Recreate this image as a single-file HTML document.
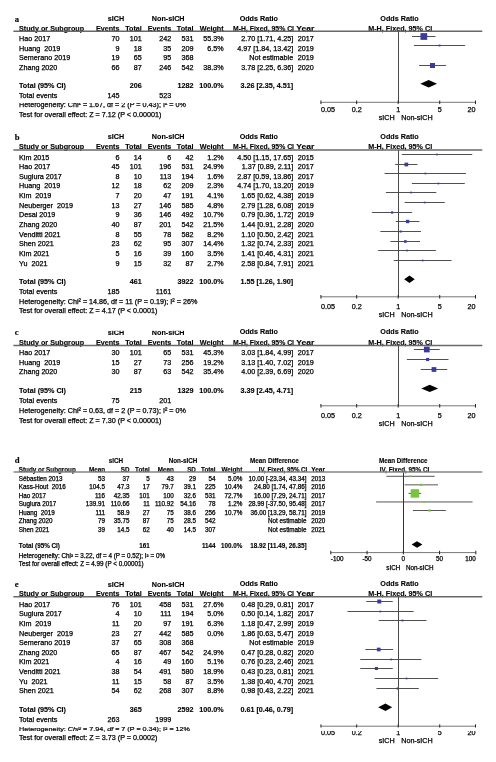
<!DOCTYPE html>
<html><head><meta charset="utf-8"><title>Forest plots</title>
<style>
html,body{margin:0;padding:0;background:#fff;}
body{width:496px;height:762px;overflow:hidden;}
svg{display:block;font-family:"Liberation Sans", Arial, sans-serif;}
#w{width:496px;height:762px;}
text{fill:#000;white-space:pre;}
.r{stroke:#000;stroke-width:0.25px;}
.b{stroke:#000;stroke-width:0.12px;}
</style></head><body><div id="w">
<svg width="496" height="762" viewBox="0 0 496 762">
<rect x="0" y="0" width="496" height="762" fill="#fff"/>
<text x="14.80" y="21.60" font-size="8.7" font-weight="bold" class="b" font-family="Liberation Serif, serif">a</text>
<text x="116.00" y="21.00" font-size="7.2" text-anchor="middle" font-weight="bold" class="b">sICH</text>
<text x="168.20" y="21.00" font-size="7.2" text-anchor="middle" font-weight="bold" class="b">Non-sICH</text>
<text x="258.80" y="20.50" font-size="7.2" text-anchor="middle" font-weight="bold" class="b">Odds Ratio</text>
<text x="399.50" y="20.50" font-size="7.2" text-anchor="middle" font-weight="bold" class="b">Odds Ratio</text>
<text x="19.00" y="30.50" font-size="7.2" font-weight="bold" class="b">Study or Subgroup</text>
<text x="119.50" y="30.50" font-size="7.2" text-anchor="end" font-weight="bold" class="b">Events</text>
<text x="141.80" y="30.50" font-size="7.2" text-anchor="end" font-weight="bold" class="b">Total</text>
<text x="171.30" y="30.50" font-size="7.2" text-anchor="end" font-weight="bold" class="b">Events</text>
<text x="193.50" y="30.50" font-size="7.2" text-anchor="end" font-weight="bold" class="b">Total</text>
<text x="223.60" y="30.50" font-size="7.2" text-anchor="end" font-weight="bold" class="b">Weight</text>
<text x="294.00" y="30.50" font-size="7.2" text-anchor="end" font-weight="bold" class="b" textLength="61" lengthAdjust="spacingAndGlyphs">M-H, Fixed, 95% CI</text>
<text x="296.30" y="30.50" font-size="7.2" font-weight="bold" class="b" textLength="18" lengthAdjust="spacingAndGlyphs">Year</text>
<text x="400.20" y="30.50" font-size="7.2" text-anchor="middle" font-weight="bold" class="b">M-H, Fixed, 95% CI</text>
<line x1="13.40" y1="31.30" x2="482.30" y2="31.30" stroke="#686868" stroke-width="1.5"/>
<text x="19.00" y="40.80" font-size="7.2" class="r">Hao 2017</text>
<text x="119.50" y="40.80" font-size="7.2" text-anchor="end" class="r">70</text>
<text x="141.80" y="40.80" font-size="7.2" text-anchor="end" class="r">101</text>
<text x="171.30" y="40.80" font-size="7.2" text-anchor="end" class="r">242</text>
<text x="193.50" y="40.80" font-size="7.2" text-anchor="end" class="r">531</text>
<text x="223.60" y="40.80" font-size="7.2" text-anchor="end" class="r">55.3%</text>
<text x="293.20" y="40.80" font-size="7.2" text-anchor="end" class="r">2.70 [1.71, 4.25]</text>
<text x="313.80" y="40.80" font-size="7.2" text-anchor="end" class="r">2017</text>
<line x1="412.04" y1="36.50" x2="435.53" y2="36.50" stroke="#505050" stroke-width="1.0"/>
<rect x="420.46" y="33.13" width="6.73" height="6.73" fill="#3b3b9e"/>
<text x="19.00" y="50.50" font-size="7.2" class="r">Huang  2019</text>
<text x="119.50" y="50.50" font-size="7.2" text-anchor="end" class="r">9</text>
<text x="141.80" y="50.50" font-size="7.2" text-anchor="end" class="r">18</text>
<text x="171.30" y="50.50" font-size="7.2" text-anchor="end" class="r">35</text>
<text x="193.50" y="50.50" font-size="7.2" text-anchor="end" class="r">209</text>
<text x="223.60" y="50.50" font-size="7.2" text-anchor="end" class="r">6.5%</text>
<text x="293.20" y="50.50" font-size="7.2" text-anchor="end" class="r">4.97 [1.84, 13.42]</text>
<text x="313.80" y="50.50" font-size="7.2" text-anchor="end" class="r">2019</text>
<line x1="413.93" y1="45.50" x2="465.20" y2="45.50" stroke="#505050" stroke-width="1.0"/>
<rect x="438.64" y="44.58" width="1.85" height="1.85" fill="#3b3b9e"/>
<text x="19.00" y="60.20" font-size="7.2" class="r">Semerano 2019</text>
<text x="119.50" y="60.20" font-size="7.2" text-anchor="end" class="r">19</text>
<text x="141.80" y="60.20" font-size="7.2" text-anchor="end" class="r">65</text>
<text x="171.30" y="60.20" font-size="7.2" text-anchor="end" class="r">95</text>
<text x="193.50" y="60.20" font-size="7.2" text-anchor="end" class="r">368</text>
<text x="293.20" y="60.20" font-size="7.2" text-anchor="end" class="r">Not estimable</text>
<text x="313.80" y="60.20" font-size="7.2" text-anchor="end" class="r">2019</text>
<text x="19.00" y="69.90" font-size="7.2" class="r">Zhang 2020</text>
<text x="119.50" y="69.90" font-size="7.2" text-anchor="end" class="r">66</text>
<text x="141.80" y="69.90" font-size="7.2" text-anchor="end" class="r">87</text>
<text x="171.30" y="69.90" font-size="7.2" text-anchor="end" class="r">246</text>
<text x="193.50" y="69.90" font-size="7.2" text-anchor="end" class="r">542</text>
<text x="223.60" y="69.90" font-size="7.2" text-anchor="end" class="r">38.3%</text>
<text x="293.20" y="69.90" font-size="7.2" text-anchor="end" class="r">3.78 [2.25, 6.36]</text>
<text x="313.80" y="69.90" font-size="7.2" text-anchor="end" class="r">2020</text>
<line x1="419.12" y1="65.50" x2="445.93" y2="65.50" stroke="#505050" stroke-width="1.0"/>
<rect x="429.99" y="62.98" width="5.03" height="5.03" fill="#3b3b9e"/>
<text x="19.00" y="88.20" font-size="7.2" font-weight="bold" class="b">Total (95% CI)</text>
<text x="141.80" y="88.20" font-size="7.2" text-anchor="end" font-weight="bold" class="b">206</text>
<text x="193.50" y="88.20" font-size="7.2" text-anchor="end" font-weight="bold" class="b">1282</text>
<text x="223.60" y="88.20" font-size="7.2" text-anchor="end" font-weight="bold" class="b">100.0%</text>
<text x="293.20" y="88.20" font-size="7.2" text-anchor="end" font-weight="bold" class="b">3.26 [2.35, 4.51]</text>
<polygon points="420.24,83.80 428.69,80.10 437.06,83.80 428.69,87.50" fill="#000"/>
<text x="19.00" y="98.30" font-size="7.2" class="r">Total events</text>
<text x="119.50" y="98.30" font-size="7.2" text-anchor="end" class="r">145</text>
<text x="171.30" y="98.30" font-size="7.2" text-anchor="end" class="r">523</text>
<text x="19.00" y="107.00" font-size="7.2" class="r">Heterogeneity: Chi² = 1.67, df = 2 (P = 0.43); I² = 0%</text>
<text x="19.00" y="117.00" font-size="7.2" class="r">Test for overall effect: Z = 7.12 (P &lt; 0.00001)</text>
<line x1="398.50" y1="31.50" x2="398.50" y2="102.30" stroke="#4a4a4a" stroke-width="1"/>
<line x1="320.91" y1="102.30" x2="475.49" y2="102.30" stroke="#777" stroke-width="1"/>
<line x1="320.91" y1="100.50" x2="320.91" y2="104.10" stroke="#222" stroke-width="1"/>
<line x1="356.68" y1="100.50" x2="356.68" y2="104.10" stroke="#222" stroke-width="1"/>
<line x1="398.20" y1="100.50" x2="398.20" y2="104.10" stroke="#222" stroke-width="1"/>
<line x1="439.72" y1="100.50" x2="439.72" y2="104.10" stroke="#222" stroke-width="1"/>
<line x1="475.49" y1="100.50" x2="475.49" y2="104.10" stroke="#222" stroke-width="1"/>
<text x="320.91" y="111.50" font-size="7.2" class="r">0.05</text>
<text x="356.68" y="111.50" font-size="7.2" text-anchor="middle" class="r">0.2</text>
<text x="398.20" y="111.50" font-size="7.2" text-anchor="middle" class="r">1</text>
<text x="439.72" y="111.50" font-size="7.2" text-anchor="middle" class="r">5</text>
<text x="475.49" y="111.50" font-size="7.2" text-anchor="end" class="r">20</text>
<text x="394.70" y="120.00" font-size="7.2" text-anchor="end" class="r">sICH</text>
<text x="401.20" y="120.00" font-size="7.2" class="r">Non-sICH</text>
<rect x="0.00" y="99.50" width="300.00" height="3.50" fill="#fff"/>
<text x="14.80" y="140.30" font-size="8.7" font-weight="bold" class="b" font-family="Liberation Serif, serif">b</text>
<text x="116.00" y="139.40" font-size="7.2" text-anchor="middle" font-weight="bold" class="b">sICH</text>
<text x="168.20" y="139.40" font-size="7.2" text-anchor="middle" font-weight="bold" class="b">Non-sICH</text>
<text x="258.80" y="138.90" font-size="7.2" text-anchor="middle" font-weight="bold" class="b">Odds Ratio</text>
<text x="399.50" y="138.90" font-size="7.2" text-anchor="middle" font-weight="bold" class="b">Odds Ratio</text>
<text x="19.00" y="149.30" font-size="7.2" font-weight="bold" class="b">Study or Subgroup</text>
<text x="119.50" y="149.30" font-size="7.2" text-anchor="end" font-weight="bold" class="b">Events</text>
<text x="141.80" y="149.30" font-size="7.2" text-anchor="end" font-weight="bold" class="b">Total</text>
<text x="171.30" y="149.30" font-size="7.2" text-anchor="end" font-weight="bold" class="b">Events</text>
<text x="193.50" y="149.30" font-size="7.2" text-anchor="end" font-weight="bold" class="b">Total</text>
<text x="223.60" y="149.30" font-size="7.2" text-anchor="end" font-weight="bold" class="b">Weight</text>
<text x="294.00" y="149.30" font-size="7.2" text-anchor="end" font-weight="bold" class="b" textLength="61" lengthAdjust="spacingAndGlyphs">M-H, Fixed, 95% CI</text>
<text x="296.30" y="149.30" font-size="7.2" font-weight="bold" class="b" textLength="18" lengthAdjust="spacingAndGlyphs">Year</text>
<text x="400.20" y="149.30" font-size="7.2" text-anchor="middle" font-weight="bold" class="b">M-H, Fixed, 95% CI</text>
<line x1="13.40" y1="150.10" x2="482.30" y2="150.10" stroke="#686868" stroke-width="1.5"/>
<text x="19.00" y="159.60" font-size="7.2" class="r">Kim 2015</text>
<text x="119.50" y="159.60" font-size="7.2" text-anchor="end" class="r">6</text>
<text x="141.80" y="159.60" font-size="7.2" text-anchor="end" class="r">14</text>
<text x="171.30" y="159.60" font-size="7.2" text-anchor="end" class="r">6</text>
<text x="193.50" y="159.60" font-size="7.2" text-anchor="end" class="r">42</text>
<text x="223.60" y="159.60" font-size="7.2" text-anchor="end" class="r">1.2%</text>
<text x="293.20" y="159.60" font-size="7.2" text-anchor="end" class="r">4.50 [1.15, 17.65]</text>
<text x="313.80" y="159.60" font-size="7.2" text-anchor="end" class="r">2015</text>
<line x1="401.81" y1="154.50" x2="472.26" y2="154.50" stroke="#505050" stroke-width="1.0"/>
<rect x="436.16" y="153.65" width="1.70" height="1.70" fill="#3b3b9e"/>
<text x="19.00" y="169.23" font-size="7.2" class="r">Hao 2017</text>
<text x="119.50" y="169.23" font-size="7.2" text-anchor="end" class="r">45</text>
<text x="141.80" y="169.23" font-size="7.2" text-anchor="end" class="r">101</text>
<text x="171.30" y="169.23" font-size="7.2" text-anchor="end" class="r">196</text>
<text x="193.50" y="169.23" font-size="7.2" text-anchor="end" class="r">531</text>
<text x="223.60" y="169.23" font-size="7.2" text-anchor="end" class="r">24.9%</text>
<text x="293.20" y="169.23" font-size="7.2" text-anchor="end" class="r">1.37 [0.89, 2.11]</text>
<text x="313.80" y="169.23" font-size="7.2" text-anchor="end" class="r">2017</text>
<line x1="395.19" y1="164.50" x2="417.46" y2="164.50" stroke="#505050" stroke-width="1.0"/>
<rect x="404.48" y="162.66" width="3.69" height="3.69" fill="#3b3b9e"/>
<text x="19.00" y="178.86" font-size="7.2" class="r">Sugiura 2017</text>
<text x="119.50" y="178.86" font-size="7.2" text-anchor="end" class="r">8</text>
<text x="141.80" y="178.86" font-size="7.2" text-anchor="end" class="r">10</text>
<text x="171.30" y="178.86" font-size="7.2" text-anchor="end" class="r">113</text>
<text x="193.50" y="178.86" font-size="7.2" text-anchor="end" class="r">194</text>
<text x="223.60" y="178.86" font-size="7.2" text-anchor="end" class="r">1.6%</text>
<text x="293.20" y="178.86" font-size="7.2" text-anchor="end" class="r">2.87 [0.59, 13.86]</text>
<text x="313.80" y="178.86" font-size="7.2" text-anchor="end" class="r">2017</text>
<line x1="384.59" y1="173.50" x2="466.03" y2="173.50" stroke="#505050" stroke-width="1.0"/>
<rect x="424.55" y="172.65" width="1.70" height="1.70" fill="#3b3b9e"/>
<text x="19.00" y="188.49" font-size="7.2" class="r">Huang  2019</text>
<text x="119.50" y="188.49" font-size="7.2" text-anchor="end" class="r">12</text>
<text x="141.80" y="188.49" font-size="7.2" text-anchor="end" class="r">18</text>
<text x="171.30" y="188.49" font-size="7.2" text-anchor="end" class="r">62</text>
<text x="193.50" y="188.49" font-size="7.2" text-anchor="end" class="r">209</text>
<text x="223.60" y="188.49" font-size="7.2" text-anchor="end" class="r">2.3%</text>
<text x="293.20" y="188.49" font-size="7.2" text-anchor="end" class="r">4.74 [1.70, 13.20]</text>
<text x="313.80" y="188.49" font-size="7.2" text-anchor="end" class="r">2019</text>
<line x1="411.89" y1="183.50" x2="464.77" y2="183.50" stroke="#505050" stroke-width="1.0"/>
<rect x="437.50" y="182.65" width="1.70" height="1.70" fill="#3b3b9e"/>
<text x="19.00" y="198.12" font-size="7.2" class="r">Kim  2019</text>
<text x="119.50" y="198.12" font-size="7.2" text-anchor="end" class="r">7</text>
<text x="141.80" y="198.12" font-size="7.2" text-anchor="end" class="r">20</text>
<text x="171.30" y="198.12" font-size="7.2" text-anchor="end" class="r">47</text>
<text x="193.50" y="198.12" font-size="7.2" text-anchor="end" class="r">191</text>
<text x="223.60" y="198.12" font-size="7.2" text-anchor="end" class="r">4.1%</text>
<text x="293.20" y="198.12" font-size="7.2" text-anchor="end" class="r">1.65 [0.62, 4.38]</text>
<text x="313.80" y="198.12" font-size="7.2" text-anchor="end" class="r">2019</text>
<line x1="385.87" y1="192.50" x2="436.31" y2="192.50" stroke="#505050" stroke-width="1.0"/>
<rect x="410.27" y="191.65" width="1.70" height="1.70" fill="#3b3b9e"/>
<text x="19.00" y="207.75" font-size="7.2" class="r">Neuberger  2019</text>
<text x="119.50" y="207.75" font-size="7.2" text-anchor="end" class="r">13</text>
<text x="141.80" y="207.75" font-size="7.2" text-anchor="end" class="r">27</text>
<text x="171.30" y="207.75" font-size="7.2" text-anchor="end" class="r">146</text>
<text x="193.50" y="207.75" font-size="7.2" text-anchor="end" class="r">585</text>
<text x="223.60" y="207.75" font-size="7.2" text-anchor="end" class="r">4.8%</text>
<text x="293.20" y="207.75" font-size="7.2" text-anchor="end" class="r">2.79 [1.28, 6.08]</text>
<text x="313.80" y="207.75" font-size="7.2" text-anchor="end" class="r">2019</text>
<line x1="404.57" y1="202.50" x2="444.77" y2="202.50" stroke="#505050" stroke-width="1.0"/>
<rect x="423.82" y="201.65" width="1.70" height="1.70" fill="#3b3b9e"/>
<text x="19.00" y="217.38" font-size="7.2" class="r">Desai 2019</text>
<text x="119.50" y="217.38" font-size="7.2" text-anchor="end" class="r">9</text>
<text x="141.80" y="217.38" font-size="7.2" text-anchor="end" class="r">36</text>
<text x="171.30" y="217.38" font-size="7.2" text-anchor="end" class="r">146</text>
<text x="193.50" y="217.38" font-size="7.2" text-anchor="end" class="r">492</text>
<text x="223.60" y="217.38" font-size="7.2" text-anchor="end" class="r">10.7%</text>
<text x="293.20" y="217.38" font-size="7.2" text-anchor="end" class="r">0.79 [0.36, 1.72]</text>
<text x="313.80" y="217.38" font-size="7.2" text-anchor="end" class="r">2019</text>
<line x1="371.84" y1="212.50" x2="412.19" y2="212.50" stroke="#505050" stroke-width="1.0"/>
<rect x="390.98" y="211.37" width="2.27" height="2.27" fill="#3b3b9e"/>
<text x="19.00" y="227.01" font-size="7.2" class="r">Zhang 2020</text>
<text x="119.50" y="227.01" font-size="7.2" text-anchor="end" class="r">40</text>
<text x="141.80" y="227.01" font-size="7.2" text-anchor="end" class="r">87</text>
<text x="171.30" y="227.01" font-size="7.2" text-anchor="end" class="r">201</text>
<text x="193.50" y="227.01" font-size="7.2" text-anchor="end" class="r">542</text>
<text x="223.60" y="227.01" font-size="7.2" text-anchor="end" class="r">21.5%</text>
<text x="293.20" y="227.01" font-size="7.2" text-anchor="end" class="r">1.44 [0.91, 2.28]</text>
<text x="313.80" y="227.01" font-size="7.2" text-anchor="end" class="r">2020</text>
<line x1="395.77" y1="221.50" x2="419.46" y2="221.50" stroke="#505050" stroke-width="1.0"/>
<rect x="405.93" y="219.82" width="3.35" height="3.35" fill="#3b3b9e"/>
<text x="19.00" y="236.64" font-size="7.2" class="r">Venditti 2021</text>
<text x="119.50" y="236.64" font-size="7.2" text-anchor="end" class="r">8</text>
<text x="141.80" y="236.64" font-size="7.2" text-anchor="end" class="r">55</text>
<text x="171.30" y="236.64" font-size="7.2" text-anchor="end" class="r">78</text>
<text x="193.50" y="236.64" font-size="7.2" text-anchor="end" class="r">582</text>
<text x="223.60" y="236.64" font-size="7.2" text-anchor="end" class="r">8.2%</text>
<text x="293.20" y="236.64" font-size="7.2" text-anchor="end" class="r">1.10 [0.50, 2.42]</text>
<text x="313.80" y="236.64" font-size="7.2" text-anchor="end" class="r">2021</text>
<line x1="380.32" y1="231.50" x2="421.00" y2="231.50" stroke="#505050" stroke-width="1.0"/>
<rect x="399.65" y="230.49" width="2.02" height="2.02" fill="#3b3b9e"/>
<text x="19.00" y="246.27" font-size="7.2" class="r">Shen 2021</text>
<text x="119.50" y="246.27" font-size="7.2" text-anchor="end" class="r">23</text>
<text x="141.80" y="246.27" font-size="7.2" text-anchor="end" class="r">62</text>
<text x="171.30" y="246.27" font-size="7.2" text-anchor="end" class="r">95</text>
<text x="193.50" y="246.27" font-size="7.2" text-anchor="end" class="r">307</text>
<text x="223.60" y="246.27" font-size="7.2" text-anchor="end" class="r">14.4%</text>
<text x="293.20" y="246.27" font-size="7.2" text-anchor="end" class="r">1.32 [0.74, 2.33]</text>
<text x="313.80" y="246.27" font-size="7.2" text-anchor="end" class="r">2021</text>
<line x1="390.43" y1="241.50" x2="420.02" y2="241.50" stroke="#505050" stroke-width="1.0"/>
<rect x="404.04" y="240.18" width="2.64" height="2.64" fill="#3b3b9e"/>
<text x="19.00" y="255.90" font-size="7.2" class="r">Kim 2021</text>
<text x="119.50" y="255.90" font-size="7.2" text-anchor="end" class="r">5</text>
<text x="141.80" y="255.90" font-size="7.2" text-anchor="end" class="r">16</text>
<text x="171.30" y="255.90" font-size="7.2" text-anchor="end" class="r">39</text>
<text x="193.50" y="255.90" font-size="7.2" text-anchor="end" class="r">160</text>
<text x="223.60" y="255.90" font-size="7.2" text-anchor="end" class="r">3.5%</text>
<text x="293.20" y="255.90" font-size="7.2" text-anchor="end" class="r">1.41 [0.46, 4.31]</text>
<text x="313.80" y="255.90" font-size="7.2" text-anchor="end" class="r">2021</text>
<line x1="378.17" y1="250.50" x2="435.89" y2="250.50" stroke="#505050" stroke-width="1.0"/>
<rect x="406.21" y="249.65" width="1.70" height="1.70" fill="#3b3b9e"/>
<text x="19.00" y="265.53" font-size="7.2" class="r">Yu  2021</text>
<text x="119.50" y="265.53" font-size="7.2" text-anchor="end" class="r">9</text>
<text x="141.80" y="265.53" font-size="7.2" text-anchor="end" class="r">15</text>
<text x="171.30" y="265.53" font-size="7.2" text-anchor="end" class="r">32</text>
<text x="193.50" y="265.53" font-size="7.2" text-anchor="end" class="r">87</text>
<text x="223.60" y="265.53" font-size="7.2" text-anchor="end" class="r">2.7%</text>
<text x="293.20" y="265.53" font-size="7.2" text-anchor="end" class="r">2.58 [0.84, 7.91]</text>
<text x="313.80" y="265.53" font-size="7.2" text-anchor="end" class="r">2021</text>
<line x1="393.70" y1="260.50" x2="451.56" y2="260.50" stroke="#505050" stroke-width="1.0"/>
<rect x="421.80" y="259.65" width="1.70" height="1.70" fill="#3b3b9e"/>
<text x="19.00" y="283.60" font-size="7.2" font-weight="bold" class="b">Total (95% CI)</text>
<text x="141.80" y="283.60" font-size="7.2" text-anchor="end" font-weight="bold" class="b">461</text>
<text x="193.50" y="283.60" font-size="7.2" text-anchor="end" font-weight="bold" class="b">3922</text>
<text x="223.60" y="283.60" font-size="7.2" text-anchor="end" font-weight="bold" class="b">100.0%</text>
<text x="293.20" y="283.60" font-size="7.2" text-anchor="end" font-weight="bold" class="b">1.55 [1.26, 1.90]</text>
<polygon points="404.16,279.20 409.51,275.50 414.76,279.20 409.51,282.90" fill="#000"/>
<text x="19.00" y="293.90" font-size="7.2" class="r">Total events</text>
<text x="119.50" y="293.90" font-size="7.2" text-anchor="end" class="r">185</text>
<text x="171.30" y="293.90" font-size="7.2" text-anchor="end" class="r">1161</text>
<text x="19.00" y="303.50" font-size="7.2" class="r">Heterogeneity: Chi² = 14.86, df = 11 (P = 0.19); I² = 26%</text>
<text x="19.00" y="313.00" font-size="7.2" class="r">Test for overall effect: Z = 4.17 (P &lt; 0.0001)</text>
<line x1="398.50" y1="150.30" x2="398.50" y2="296.80" stroke="#4a4a4a" stroke-width="1"/>
<line x1="320.91" y1="296.80" x2="475.49" y2="296.80" stroke="#777" stroke-width="1"/>
<line x1="320.91" y1="295.00" x2="320.91" y2="298.60" stroke="#222" stroke-width="1"/>
<line x1="356.68" y1="295.00" x2="356.68" y2="298.60" stroke="#222" stroke-width="1"/>
<line x1="398.20" y1="295.00" x2="398.20" y2="298.60" stroke="#222" stroke-width="1"/>
<line x1="439.72" y1="295.00" x2="439.72" y2="298.60" stroke="#222" stroke-width="1"/>
<line x1="475.49" y1="295.00" x2="475.49" y2="298.60" stroke="#222" stroke-width="1"/>
<text x="320.91" y="308.70" font-size="7.2" class="r">0.05</text>
<text x="356.68" y="308.70" font-size="7.2" text-anchor="middle" class="r">0.2</text>
<text x="398.20" y="308.70" font-size="7.2" text-anchor="middle" class="r">1</text>
<text x="439.72" y="308.70" font-size="7.2" text-anchor="middle" class="r">5</text>
<text x="475.49" y="308.70" font-size="7.2" text-anchor="end" class="r">20</text>
<text x="394.70" y="317.40" font-size="7.2" text-anchor="end" class="r">sICH</text>
<text x="401.20" y="317.40" font-size="7.2" class="r">Non-sICH</text>
<text x="14.80" y="335.00" font-size="8.7" font-weight="bold" class="b" font-family="Liberation Serif, serif">c</text>
<text x="116.00" y="334.50" font-size="7.2" text-anchor="middle" font-weight="bold" class="b">sICH</text>
<text x="168.20" y="334.50" font-size="7.2" text-anchor="middle" font-weight="bold" class="b">Non-sICH</text>
<text x="258.80" y="334.00" font-size="7.2" text-anchor="middle" font-weight="bold" class="b">Odds Ratio</text>
<text x="399.50" y="334.00" font-size="7.2" text-anchor="middle" font-weight="bold" class="b">Odds Ratio</text>
<text x="19.00" y="344.60" font-size="7.2" font-weight="bold" class="b">Study or Subgroup</text>
<text x="119.50" y="344.60" font-size="7.2" text-anchor="end" font-weight="bold" class="b">Events</text>
<text x="141.80" y="344.60" font-size="7.2" text-anchor="end" font-weight="bold" class="b">Total</text>
<text x="171.30" y="344.60" font-size="7.2" text-anchor="end" font-weight="bold" class="b">Events</text>
<text x="193.50" y="344.60" font-size="7.2" text-anchor="end" font-weight="bold" class="b">Total</text>
<text x="223.60" y="344.60" font-size="7.2" text-anchor="end" font-weight="bold" class="b">Weight</text>
<text x="294.00" y="344.60" font-size="7.2" text-anchor="end" font-weight="bold" class="b" textLength="61" lengthAdjust="spacingAndGlyphs">M-H, Fixed, 95% CI</text>
<text x="296.30" y="344.60" font-size="7.2" font-weight="bold" class="b" textLength="18" lengthAdjust="spacingAndGlyphs">Year</text>
<text x="400.20" y="344.60" font-size="7.2" text-anchor="middle" font-weight="bold" class="b">M-H, Fixed, 95% CI</text>
<line x1="13.40" y1="345.40" x2="482.30" y2="345.40" stroke="#686868" stroke-width="1.5"/>
<text x="19.00" y="355.00" font-size="7.2" class="r">Hao 2017</text>
<text x="119.50" y="355.00" font-size="7.2" text-anchor="end" class="r">30</text>
<text x="141.80" y="355.00" font-size="7.2" text-anchor="end" class="r">101</text>
<text x="171.30" y="355.00" font-size="7.2" text-anchor="end" class="r">65</text>
<text x="193.50" y="355.00" font-size="7.2" text-anchor="end" class="r">531</text>
<text x="223.60" y="355.00" font-size="7.2" text-anchor="end" class="r">45.3%</text>
<text x="293.20" y="355.00" font-size="7.2" text-anchor="end" class="r">3.03 [1.84, 4.99]</text>
<text x="313.80" y="355.00" font-size="7.2" text-anchor="end" class="r">2017</text>
<line x1="413.93" y1="349.50" x2="439.67" y2="349.50" stroke="#505050" stroke-width="1.0"/>
<rect x="423.94" y="346.63" width="5.73" height="5.73" fill="#3b3b9e"/>
<text x="19.00" y="364.70" font-size="7.2" class="r">Huang  2019</text>
<text x="119.50" y="364.70" font-size="7.2" text-anchor="end" class="r">15</text>
<text x="141.80" y="364.70" font-size="7.2" text-anchor="end" class="r">27</text>
<text x="171.30" y="364.70" font-size="7.2" text-anchor="end" class="r">73</text>
<text x="193.50" y="364.70" font-size="7.2" text-anchor="end" class="r">256</text>
<text x="223.60" y="364.70" font-size="7.2" text-anchor="end" class="r">19.2%</text>
<text x="293.20" y="364.70" font-size="7.2" text-anchor="end" class="r">3.13 [1.40, 7.02]</text>
<text x="313.80" y="364.70" font-size="7.2" text-anchor="end" class="r">2019</text>
<line x1="406.88" y1="359.50" x2="448.48" y2="359.50" stroke="#505050" stroke-width="1.0"/>
<rect x="426.08" y="357.94" width="3.12" height="3.12" fill="#3b3b9e"/>
<text x="19.00" y="374.40" font-size="7.2" class="r">Zhang 2020</text>
<text x="119.50" y="374.40" font-size="7.2" text-anchor="end" class="r">30</text>
<text x="141.80" y="374.40" font-size="7.2" text-anchor="end" class="r">87</text>
<text x="171.30" y="374.40" font-size="7.2" text-anchor="end" class="r">63</text>
<text x="193.50" y="374.40" font-size="7.2" text-anchor="end" class="r">542</text>
<text x="223.60" y="374.40" font-size="7.2" text-anchor="end" class="r">35.4%</text>
<text x="293.20" y="374.40" font-size="7.2" text-anchor="end" class="r">4.00 [2.39, 6.69]</text>
<text x="313.80" y="374.40" font-size="7.2" text-anchor="end" class="r">2020</text>
<line x1="420.68" y1="369.50" x2="447.24" y2="369.50" stroke="#505050" stroke-width="1.0"/>
<rect x="431.60" y="367.13" width="4.74" height="4.74" fill="#3b3b9e"/>
<text x="19.00" y="392.80" font-size="7.2" font-weight="bold" class="b">Total (95% CI)</text>
<text x="141.80" y="392.80" font-size="7.2" text-anchor="end" font-weight="bold" class="b">215</text>
<text x="193.50" y="392.80" font-size="7.2" text-anchor="end" font-weight="bold" class="b">1329</text>
<text x="223.60" y="392.80" font-size="7.2" text-anchor="end" font-weight="bold" class="b">100.0%</text>
<text x="293.20" y="392.80" font-size="7.2" text-anchor="end" font-weight="bold" class="b">3.39 [2.45, 4.71]</text>
<polygon points="421.32,388.40 429.70,384.70 438.18,388.40 429.70,392.10" fill="#000"/>
<text x="19.00" y="403.20" font-size="7.2" class="r">Total events</text>
<text x="119.50" y="403.20" font-size="7.2" text-anchor="end" class="r">75</text>
<text x="171.30" y="403.20" font-size="7.2" text-anchor="end" class="r">201</text>
<text x="19.00" y="412.90" font-size="7.2" class="r">Heterogeneity: Chi² = 0.63, df = 2 (P = 0.73); I² = 0%</text>
<text x="19.00" y="422.50" font-size="7.2" class="r">Test for overall effect: Z = 7.30 (P &lt; 0.00001)</text>
<line x1="398.50" y1="345.60" x2="398.50" y2="405.80" stroke="#4a4a4a" stroke-width="1"/>
<line x1="320.91" y1="405.80" x2="475.49" y2="405.80" stroke="#777" stroke-width="1"/>
<line x1="320.91" y1="404.00" x2="320.91" y2="407.60" stroke="#222" stroke-width="1"/>
<line x1="356.68" y1="404.00" x2="356.68" y2="407.60" stroke="#222" stroke-width="1"/>
<line x1="398.20" y1="404.00" x2="398.20" y2="407.60" stroke="#222" stroke-width="1"/>
<line x1="439.72" y1="404.00" x2="439.72" y2="407.60" stroke="#222" stroke-width="1"/>
<line x1="475.49" y1="404.00" x2="475.49" y2="407.60" stroke="#222" stroke-width="1"/>
<text x="320.91" y="417.60" font-size="7.2" class="r">0.05</text>
<text x="356.68" y="417.60" font-size="7.2" text-anchor="middle" class="r">0.2</text>
<text x="398.20" y="417.60" font-size="7.2" text-anchor="middle" class="r">1</text>
<text x="439.72" y="417.60" font-size="7.2" text-anchor="middle" class="r">5</text>
<text x="475.49" y="417.60" font-size="7.2" text-anchor="end" class="r">20</text>
<text x="394.70" y="425.90" font-size="7.2" text-anchor="end" class="r">sICH</text>
<text x="401.20" y="425.90" font-size="7.2" class="r">Non-sICH</text>
<rect x="0.00" y="325.00" width="205.00" height="5.80" fill="#fff"/>
<text x="14.80" y="587.40" font-size="8.7" font-weight="bold" class="b" font-family="Liberation Serif, serif">e</text>
<text x="116.00" y="586.80" font-size="7.2" text-anchor="middle" font-weight="bold" class="b">sICH</text>
<text x="168.20" y="586.80" font-size="7.2" text-anchor="middle" font-weight="bold" class="b">Non-sICH</text>
<text x="258.80" y="586.30" font-size="7.2" text-anchor="middle" font-weight="bold" class="b">Odds Ratio</text>
<text x="399.50" y="586.30" font-size="7.2" text-anchor="middle" font-weight="bold" class="b">Odds Ratio</text>
<text x="19.00" y="596.00" font-size="7.2" font-weight="bold" class="b">Study or Subgroup</text>
<text x="119.50" y="596.00" font-size="7.2" text-anchor="end" font-weight="bold" class="b">Events</text>
<text x="141.80" y="596.00" font-size="7.2" text-anchor="end" font-weight="bold" class="b">Total</text>
<text x="171.30" y="596.00" font-size="7.2" text-anchor="end" font-weight="bold" class="b">Events</text>
<text x="193.50" y="596.00" font-size="7.2" text-anchor="end" font-weight="bold" class="b">Total</text>
<text x="223.60" y="596.00" font-size="7.2" text-anchor="end" font-weight="bold" class="b">Weight</text>
<text x="294.00" y="596.00" font-size="7.2" text-anchor="end" font-weight="bold" class="b" textLength="61" lengthAdjust="spacingAndGlyphs">M-H, Fixed, 95% CI</text>
<text x="296.30" y="596.00" font-size="7.2" font-weight="bold" class="b" textLength="18" lengthAdjust="spacingAndGlyphs">Year</text>
<text x="400.20" y="596.00" font-size="7.2" text-anchor="middle" font-weight="bold" class="b">M-H, Fixed, 95% CI</text>
<line x1="13.40" y1="596.80" x2="482.30" y2="596.80" stroke="#686868" stroke-width="1.5"/>
<text x="19.00" y="606.80" font-size="7.2" class="r">Hao 2017</text>
<text x="119.50" y="606.80" font-size="7.2" text-anchor="end" class="r">76</text>
<text x="141.80" y="606.80" font-size="7.2" text-anchor="end" class="r">101</text>
<text x="171.30" y="606.80" font-size="7.2" text-anchor="end" class="r">458</text>
<text x="193.50" y="606.80" font-size="7.2" text-anchor="end" class="r">531</text>
<text x="223.60" y="606.80" font-size="7.2" text-anchor="end" class="r">27.6%</text>
<text x="293.20" y="606.80" font-size="7.2" text-anchor="end" class="r">0.48 [0.29, 0.81]</text>
<text x="313.80" y="606.80" font-size="7.2" text-anchor="end" class="r">2017</text>
<line x1="366.26" y1="601.50" x2="392.76" y2="601.50" stroke="#505050" stroke-width="1.0"/>
<rect x="377.28" y="599.52" width="3.96" height="3.96" fill="#3b3b9e"/>
<text x="19.00" y="616.41" font-size="7.2" class="r">Sugiura 2017</text>
<text x="119.50" y="616.41" font-size="7.2" text-anchor="end" class="r">4</text>
<text x="141.80" y="616.41" font-size="7.2" text-anchor="end" class="r">10</text>
<text x="171.30" y="616.41" font-size="7.2" text-anchor="end" class="r">111</text>
<text x="193.50" y="616.41" font-size="7.2" text-anchor="end" class="r">194</text>
<text x="223.60" y="616.41" font-size="7.2" text-anchor="end" class="r">5.0%</text>
<text x="293.20" y="616.41" font-size="7.2" text-anchor="end" class="r">0.50 [0.14, 1.82]</text>
<text x="313.80" y="616.41" font-size="7.2" text-anchor="end" class="r">2017</text>
<line x1="347.47" y1="611.50" x2="413.65" y2="611.50" stroke="#505050" stroke-width="1.0"/>
<rect x="379.47" y="610.65" width="1.70" height="1.70" fill="#3b3b9e"/>
<text x="19.00" y="626.02" font-size="7.2" class="r">Kim  2019</text>
<text x="119.50" y="626.02" font-size="7.2" text-anchor="end" class="r">11</text>
<text x="141.80" y="626.02" font-size="7.2" text-anchor="end" class="r">20</text>
<text x="171.30" y="626.02" font-size="7.2" text-anchor="end" class="r">97</text>
<text x="193.50" y="626.02" font-size="7.2" text-anchor="end" class="r">191</text>
<text x="223.60" y="626.02" font-size="7.2" text-anchor="end" class="r">6.3%</text>
<text x="293.20" y="626.02" font-size="7.2" text-anchor="end" class="r">1.18 [0.47, 2.99]</text>
<text x="313.80" y="626.02" font-size="7.2" text-anchor="end" class="r">2019</text>
<line x1="378.72" y1="620.50" x2="426.46" y2="620.50" stroke="#505050" stroke-width="1.0"/>
<rect x="401.56" y="619.59" width="1.83" height="1.83" fill="#3b3b9e"/>
<text x="19.00" y="635.63" font-size="7.2" class="r">Neuberger  2019</text>
<text x="119.50" y="635.63" font-size="7.2" text-anchor="end" class="r">23</text>
<text x="141.80" y="635.63" font-size="7.2" text-anchor="end" class="r">27</text>
<text x="171.30" y="635.63" font-size="7.2" text-anchor="end" class="r">442</text>
<text x="193.50" y="635.63" font-size="7.2" text-anchor="end" class="r">585</text>
<text x="223.60" y="635.63" font-size="7.2" text-anchor="end" class="r">0.0%</text>
<text x="293.20" y="635.63" font-size="7.2" text-anchor="end" class="r">1.86 [0.63, 5.47]</text>
<text x="313.80" y="635.63" font-size="7.2" text-anchor="end" class="r">2019</text>
<text x="19.00" y="645.24" font-size="7.2" class="r">Semerano 2019</text>
<text x="119.50" y="645.24" font-size="7.2" text-anchor="end" class="r">37</text>
<text x="141.80" y="645.24" font-size="7.2" text-anchor="end" class="r">65</text>
<text x="171.30" y="645.24" font-size="7.2" text-anchor="end" class="r">308</text>
<text x="193.50" y="645.24" font-size="7.2" text-anchor="end" class="r">368</text>
<text x="293.20" y="645.24" font-size="7.2" text-anchor="end" class="r">Not estimable</text>
<text x="313.80" y="645.24" font-size="7.2" text-anchor="end" class="r">2019</text>
<text x="19.00" y="654.85" font-size="7.2" class="r">Zhang 2020</text>
<text x="119.50" y="654.85" font-size="7.2" text-anchor="end" class="r">65</text>
<text x="141.80" y="654.85" font-size="7.2" text-anchor="end" class="r">87</text>
<text x="171.30" y="654.85" font-size="7.2" text-anchor="end" class="r">467</text>
<text x="193.50" y="654.85" font-size="7.2" text-anchor="end" class="r">542</text>
<text x="223.60" y="654.85" font-size="7.2" text-anchor="end" class="r">24.9%</text>
<text x="293.20" y="654.85" font-size="7.2" text-anchor="end" class="r">0.47 [0.28, 0.82]</text>
<text x="313.80" y="654.85" font-size="7.2" text-anchor="end" class="r">2020</text>
<line x1="365.36" y1="649.50" x2="393.08" y2="649.50" stroke="#505050" stroke-width="1.0"/>
<rect x="376.88" y="647.65" width="3.69" height="3.69" fill="#3b3b9e"/>
<text x="19.00" y="664.46" font-size="7.2" class="r">Kim 2021</text>
<text x="119.50" y="664.46" font-size="7.2" text-anchor="end" class="r">4</text>
<text x="141.80" y="664.46" font-size="7.2" text-anchor="end" class="r">16</text>
<text x="171.30" y="664.46" font-size="7.2" text-anchor="end" class="r">49</text>
<text x="193.50" y="664.46" font-size="7.2" text-anchor="end" class="r">160</text>
<text x="223.60" y="664.46" font-size="7.2" text-anchor="end" class="r">5.1%</text>
<text x="293.20" y="664.46" font-size="7.2" text-anchor="end" class="r">0.76 [0.23, 2.46]</text>
<text x="313.80" y="664.46" font-size="7.2" text-anchor="end" class="r">2021</text>
<line x1="360.28" y1="659.50" x2="421.42" y2="659.50" stroke="#505050" stroke-width="1.0"/>
<rect x="390.26" y="658.64" width="1.71" height="1.71" fill="#3b3b9e"/>
<text x="19.00" y="674.07" font-size="7.2" class="r">Venditti 2021</text>
<text x="119.50" y="674.07" font-size="7.2" text-anchor="end" class="r">38</text>
<text x="141.80" y="674.07" font-size="7.2" text-anchor="end" class="r">54</text>
<text x="171.30" y="674.07" font-size="7.2" text-anchor="end" class="r">491</text>
<text x="193.50" y="674.07" font-size="7.2" text-anchor="end" class="r">580</text>
<text x="223.60" y="674.07" font-size="7.2" text-anchor="end" class="r">18.9%</text>
<text x="293.20" y="674.07" font-size="7.2" text-anchor="end" class="r">0.43 [0.23, 0.81]</text>
<text x="313.80" y="674.07" font-size="7.2" text-anchor="end" class="r">2021</text>
<line x1="360.28" y1="668.50" x2="392.76" y2="668.50" stroke="#505050" stroke-width="1.0"/>
<rect x="374.88" y="666.96" width="3.09" height="3.09" fill="#3b3b9e"/>
<text x="19.00" y="683.68" font-size="7.2" class="r">Yu  2021</text>
<text x="119.50" y="683.68" font-size="7.2" text-anchor="end" class="r">11</text>
<text x="141.80" y="683.68" font-size="7.2" text-anchor="end" class="r">15</text>
<text x="171.30" y="683.68" font-size="7.2" text-anchor="end" class="r">58</text>
<text x="193.50" y="683.68" font-size="7.2" text-anchor="end" class="r">87</text>
<text x="223.60" y="683.68" font-size="7.2" text-anchor="end" class="r">3.5%</text>
<text x="293.20" y="683.68" font-size="7.2" text-anchor="end" class="r">1.38 [0.40, 4.70]</text>
<text x="313.80" y="683.68" font-size="7.2" text-anchor="end" class="r">2021</text>
<line x1="374.56" y1="678.50" x2="438.13" y2="678.50" stroke="#505050" stroke-width="1.0"/>
<rect x="405.66" y="677.65" width="1.70" height="1.70" fill="#3b3b9e"/>
<text x="19.00" y="693.29" font-size="7.2" class="r">Shen 2021</text>
<text x="119.50" y="693.29" font-size="7.2" text-anchor="end" class="r">54</text>
<text x="141.80" y="693.29" font-size="7.2" text-anchor="end" class="r">62</text>
<text x="171.30" y="693.29" font-size="7.2" text-anchor="end" class="r">268</text>
<text x="193.50" y="693.29" font-size="7.2" text-anchor="end" class="r">307</text>
<text x="223.60" y="693.29" font-size="7.2" text-anchor="end" class="r">8.8%</text>
<text x="293.20" y="693.29" font-size="7.2" text-anchor="end" class="r">0.98 [0.43, 2.22]</text>
<text x="313.80" y="693.29" font-size="7.2" text-anchor="end" class="r">2021</text>
<line x1="376.43" y1="688.50" x2="418.78" y2="688.50" stroke="#505050" stroke-width="1.0"/>
<rect x="396.64" y="687.46" width="2.08" height="2.08" fill="#3b3b9e"/>
<text x="19.00" y="711.60" font-size="7.2" font-weight="bold" class="b">Total (95% CI)</text>
<text x="141.80" y="711.60" font-size="7.2" text-anchor="end" font-weight="bold" class="b">365</text>
<text x="193.50" y="711.60" font-size="7.2" text-anchor="end" font-weight="bold" class="b">2592</text>
<text x="223.60" y="711.60" font-size="7.2" text-anchor="end" font-weight="bold" class="b">100.0%</text>
<text x="293.20" y="711.60" font-size="7.2" text-anchor="end" font-weight="bold" class="b">0.61 [0.46, 0.79]</text>
<polygon points="378.17,707.20 385.45,703.50 392.12,707.20 385.45,710.90" fill="#000"/>
<text x="19.00" y="722.00" font-size="7.2" class="r">Total events</text>
<text x="119.50" y="722.00" font-size="7.2" text-anchor="end" class="r">263</text>
<text x="171.30" y="722.00" font-size="7.2" text-anchor="end" class="r">1999</text>
<g transform="translate(0,730.80) scale(1,0.72)">
<text x="19.00" y="0.00" font-size="7.2" class="r">Heterogeneity: <tspan font-style="italic">Chi²</tspan> = 7.94, <tspan font-style="italic">df</tspan> = 7 (P = 0.34); I² = 12%</text>
</g>
<text x="19.00" y="740.40" font-size="7.2" class="r">Test for overall effect: Z = 3.73 (P = 0.0002)</text>
<line x1="398.50" y1="597.00" x2="398.50" y2="726.20" stroke="#4a4a4a" stroke-width="1"/>
<line x1="320.91" y1="726.20" x2="475.49" y2="726.20" stroke="#777" stroke-width="1"/>
<line x1="320.91" y1="724.40" x2="320.91" y2="728.00" stroke="#222" stroke-width="1"/>
<line x1="356.68" y1="724.40" x2="356.68" y2="728.00" stroke="#222" stroke-width="1"/>
<line x1="398.20" y1="724.40" x2="398.20" y2="728.00" stroke="#222" stroke-width="1"/>
<line x1="439.72" y1="724.40" x2="439.72" y2="728.00" stroke="#222" stroke-width="1"/>
<line x1="475.49" y1="724.40" x2="475.49" y2="728.00" stroke="#222" stroke-width="1"/>
<text x="320.91" y="735.00" font-size="7.2" class="r">0.05</text>
<text x="356.68" y="735.00" font-size="7.2" text-anchor="middle" class="r">0.2</text>
<text x="398.20" y="735.00" font-size="7.2" text-anchor="middle" class="r">1</text>
<text x="439.72" y="735.00" font-size="7.2" text-anchor="middle" class="r">5</text>
<text x="475.49" y="735.00" font-size="7.2" text-anchor="end" class="r">20</text>
<text x="394.70" y="743.10" font-size="7.2" text-anchor="end" class="r">sICH</text>
<text x="401.20" y="743.10" font-size="7.2" class="r">Non-sICH</text>
<rect x="310.00" y="727.50" width="186.00" height="3.50" fill="#fff"/>
<text x="14.80" y="463.00" font-size="8.7" font-weight="bold" class="b" font-family="Liberation Serif, serif">d</text>
<text x="116.00" y="463.00" font-size="6.3" text-anchor="middle" font-weight="bold" class="b">sICH</text>
<text x="183.00" y="463.00" font-size="6.3" text-anchor="middle" font-weight="bold" class="b">Non-sICH</text>
<text x="274.40" y="463.00" font-size="6.3" text-anchor="middle" font-weight="bold" class="b">Mean Difference</text>
<text x="403.30" y="463.00" font-size="6.3" text-anchor="middle" font-weight="bold" class="b">Mean Difference</text>
<text x="18.80" y="471.60" font-size="6.3" font-weight="bold" class="b">Study or Subgroup</text>
<text x="105.00" y="471.60" font-size="6.3" text-anchor="end" font-weight="bold" class="b">Mean</text>
<text x="129.60" y="471.60" font-size="6.3" text-anchor="end" font-weight="bold" class="b">SD</text>
<text x="149.70" y="471.60" font-size="6.3" text-anchor="end" font-weight="bold" class="b">Total</text>
<text x="173.80" y="471.60" font-size="6.3" text-anchor="end" font-weight="bold" class="b">Mean</text>
<text x="195.90" y="471.60" font-size="6.3" text-anchor="end" font-weight="bold" class="b">SD</text>
<text x="215.60" y="471.60" font-size="6.3" text-anchor="end" font-weight="bold" class="b">Total</text>
<text x="242.30" y="471.60" font-size="6.3" text-anchor="end" font-weight="bold" class="b">Weight</text>
<text x="307.30" y="471.60" font-size="6.3" text-anchor="end" font-weight="bold" class="b" textLength="48.5" lengthAdjust="spacingAndGlyphs">IV, Fixed, 95% CI</text>
<text x="311.30" y="471.60" font-size="6.3" font-weight="bold" class="b" textLength="13.7" lengthAdjust="spacingAndGlyphs">Year</text>
<text x="404.50" y="471.60" font-size="6.3" text-anchor="middle" font-weight="bold" class="b">IV, Fixed, 95% CI</text>
<line x1="13.60" y1="472.10" x2="482.30" y2="472.10" stroke="#858585" stroke-width="1.5"/>
<text x="18.80" y="480.50" font-size="6.3" class="r">Sébastien 2013</text>
<text x="105.00" y="480.50" font-size="6.3" text-anchor="end" class="r">53</text>
<text x="129.60" y="480.50" font-size="6.3" text-anchor="end" class="r">37</text>
<text x="149.70" y="480.50" font-size="6.3" text-anchor="end" class="r">5</text>
<text x="173.80" y="480.50" font-size="6.3" text-anchor="end" class="r">43</text>
<text x="195.90" y="480.50" font-size="6.3" text-anchor="end" class="r">29</text>
<text x="215.60" y="480.50" font-size="6.3" text-anchor="end" class="r">54</text>
<text x="242.30" y="480.50" font-size="6.3" text-anchor="end" class="r">5.0%</text>
<text x="306.50" y="480.50" font-size="6.3" text-anchor="end" class="r">10.00 [-23.34, 43.34]</text>
<text x="325.30" y="480.50" font-size="6.3" text-anchor="end" class="r">2013</text>
<line x1="386.38" y1="476.30" x2="434.72" y2="476.30" stroke="#444" stroke-width="0.9"/>
<rect x="409.70" y="475.45" width="1.70" height="1.70" fill="#78c43c"/>
<text x="18.80" y="489.05" font-size="6.3" class="r">Kass-Hout  2016</text>
<text x="105.00" y="489.05" font-size="6.3" text-anchor="end" class="r">104.5</text>
<text x="129.60" y="489.05" font-size="6.3" text-anchor="end" class="r">47.3</text>
<text x="149.70" y="489.05" font-size="6.3" text-anchor="end" class="r">17</text>
<text x="173.80" y="489.05" font-size="6.3" text-anchor="end" class="r">79.7</text>
<text x="195.90" y="489.05" font-size="6.3" text-anchor="end" class="r">39.1</text>
<text x="215.60" y="489.05" font-size="6.3" text-anchor="end" class="r">225</text>
<text x="242.30" y="489.05" font-size="6.3" text-anchor="end" class="r">10.4%</text>
<text x="306.50" y="489.05" font-size="6.3" text-anchor="end" class="r">24.80 [1.74, 47.86]</text>
<text x="325.30" y="489.05" font-size="6.3" text-anchor="end" class="r">2016</text>
<line x1="404.56" y1="484.85" x2="438.00" y2="484.85" stroke="#444" stroke-width="0.9"/>
<rect x="420.16" y="483.73" width="2.24" height="2.24" fill="#78c43c"/>
<text x="18.80" y="497.60" font-size="6.3" class="r">Hao 2017</text>
<text x="105.00" y="497.60" font-size="6.3" text-anchor="end" class="r">116</text>
<text x="129.60" y="497.60" font-size="6.3" text-anchor="end" class="r">42.35</text>
<text x="149.70" y="497.60" font-size="6.3" text-anchor="end" class="r">101</text>
<text x="173.80" y="497.60" font-size="6.3" text-anchor="end" class="r">100</text>
<text x="195.90" y="497.60" font-size="6.3" text-anchor="end" class="r">32.6</text>
<text x="215.60" y="497.60" font-size="6.3" text-anchor="end" class="r">531</text>
<text x="242.30" y="497.60" font-size="6.3" text-anchor="end" class="r">72.7%</text>
<text x="306.50" y="497.60" font-size="6.3" text-anchor="end" class="r">16.00 [7.29, 24.71]</text>
<text x="325.30" y="497.60" font-size="6.3" text-anchor="end" class="r">2017</text>
<line x1="408.59" y1="493.40" x2="421.21" y2="493.40" stroke="#444" stroke-width="0.9"/>
<rect x="410.67" y="489.17" width="8.47" height="8.47" fill="#78c43c"/>
<text x="18.80" y="506.15" font-size="6.3" class="r">Sugiura 2017</text>
<text x="105.00" y="506.15" font-size="6.3" text-anchor="end" class="r">139.91</text>
<text x="129.60" y="506.15" font-size="6.3" text-anchor="end" class="r">110.66</text>
<text x="149.70" y="506.15" font-size="6.3" text-anchor="end" class="r">11</text>
<text x="173.80" y="506.15" font-size="6.3" text-anchor="end" class="r">110.92</text>
<text x="195.90" y="506.15" font-size="6.3" text-anchor="end" class="r">54.16</text>
<text x="215.60" y="506.15" font-size="6.3" text-anchor="end" class="r">78</text>
<text x="242.30" y="506.15" font-size="6.3" text-anchor="end" class="r">1.2%</text>
<text x="306.50" y="506.15" font-size="6.3" text-anchor="end" class="r">28.99 [-37.50, 95.48]</text>
<text x="325.30" y="506.15" font-size="6.3" text-anchor="end" class="r">2017</text>
<line x1="376.11" y1="501.95" x2="472.52" y2="501.95" stroke="#444" stroke-width="0.9"/>
<rect x="423.47" y="501.10" width="1.70" height="1.70" fill="#78c43c"/>
<text x="18.80" y="514.70" font-size="6.3" class="r">Huang  2019</text>
<text x="105.00" y="514.70" font-size="6.3" text-anchor="end" class="r">111</text>
<text x="129.60" y="514.70" font-size="6.3" text-anchor="end" class="r">58.9</text>
<text x="149.70" y="514.70" font-size="6.3" text-anchor="end" class="r">27</text>
<text x="173.80" y="514.70" font-size="6.3" text-anchor="end" class="r">75</text>
<text x="195.90" y="514.70" font-size="6.3" text-anchor="end" class="r">38.6</text>
<text x="215.60" y="514.70" font-size="6.3" text-anchor="end" class="r">256</text>
<text x="242.30" y="514.70" font-size="6.3" text-anchor="end" class="r">10.7%</text>
<text x="306.50" y="514.70" font-size="6.3" text-anchor="end" class="r">36.00 [13.29, 58.71]</text>
<text x="325.30" y="514.70" font-size="6.3" text-anchor="end" class="r">2019</text>
<line x1="412.94" y1="510.50" x2="445.86" y2="510.50" stroke="#444" stroke-width="0.9"/>
<rect x="428.27" y="509.37" width="2.27" height="2.27" fill="#78c43c"/>
<text x="18.80" y="523.25" font-size="6.3" class="r">Zhang 2020</text>
<text x="105.00" y="523.25" font-size="6.3" text-anchor="end" class="r">79</text>
<text x="129.60" y="523.25" font-size="6.3" text-anchor="end" class="r">35.75</text>
<text x="149.70" y="523.25" font-size="6.3" text-anchor="end" class="r">87</text>
<text x="173.80" y="523.25" font-size="6.3" text-anchor="end" class="r">75</text>
<text x="195.90" y="523.25" font-size="6.3" text-anchor="end" class="r">28.5</text>
<text x="215.60" y="523.25" font-size="6.3" text-anchor="end" class="r">542</text>
<text x="306.50" y="523.25" font-size="6.3" text-anchor="end" class="r">Not estimable</text>
<text x="325.30" y="523.25" font-size="6.3" text-anchor="end" class="r">2020</text>
<text x="18.80" y="531.80" font-size="6.3" class="r">Shen 2021</text>
<text x="105.00" y="531.80" font-size="6.3" text-anchor="end" class="r">39</text>
<text x="129.60" y="531.80" font-size="6.3" text-anchor="end" class="r">14.5</text>
<text x="149.70" y="531.80" font-size="6.3" text-anchor="end" class="r">62</text>
<text x="173.80" y="531.80" font-size="6.3" text-anchor="end" class="r">40</text>
<text x="195.90" y="531.80" font-size="6.3" text-anchor="end" class="r">14.5</text>
<text x="215.60" y="531.80" font-size="6.3" text-anchor="end" class="r">307</text>
<text x="306.50" y="531.80" font-size="6.3" text-anchor="end" class="r">Not estimable</text>
<text x="325.30" y="531.80" font-size="6.3" text-anchor="end" class="r">2021</text>
<text x="18.80" y="547.80" font-size="6.3" font-weight="bold" class="b">Total (95% CI)</text>
<text x="149.70" y="547.80" font-size="6.3" text-anchor="end" font-weight="bold" class="b">161</text>
<text x="215.60" y="547.80" font-size="6.3" text-anchor="end" font-weight="bold" class="b">1144</text>
<text x="242.30" y="547.80" font-size="6.3" text-anchor="end" font-weight="bold" class="b">100.0%</text>
<text x="306.50" y="547.80" font-size="6.3" text-anchor="end" font-weight="bold" class="b">18.92 [11.49, 26.35]</text>
<polygon points="411.63,544.50 417.02,541.30 422.40,544.50 417.02,547.70" fill="#000"/>
<text x="18.80" y="557.50" font-size="6.3" class="r">Heterogeneity: Chi² = 3.22, df = 4 (P = 0.52); I² = 0%</text>
<text x="18.80" y="566.30" font-size="6.3" class="r">Test for overall effect: Z = 4.99 (P &lt; 0.00001)</text>
<line x1="403.50" y1="472.60" x2="403.50" y2="552.60" stroke="#333" stroke-width="1"/>
<line x1="330.80" y1="552.60" x2="475.80" y2="552.60" stroke="#777" stroke-width="1"/>
<line x1="330.80" y1="550.80" x2="330.80" y2="554.40" stroke="#222" stroke-width="1"/>
<line x1="367.05" y1="550.80" x2="367.05" y2="554.40" stroke="#222" stroke-width="1"/>
<line x1="403.30" y1="550.80" x2="403.30" y2="554.40" stroke="#222" stroke-width="1"/>
<line x1="439.55" y1="550.80" x2="439.55" y2="554.40" stroke="#222" stroke-width="1"/>
<line x1="475.80" y1="550.80" x2="475.80" y2="554.40" stroke="#222" stroke-width="1"/>
<text x="330.80" y="561.40" font-size="6.3" class="r">-100</text>
<text x="367.05" y="561.40" font-size="6.3" text-anchor="middle" class="r">-50</text>
<text x="403.30" y="561.40" font-size="6.3" text-anchor="middle" class="r">0</text>
<text x="439.55" y="561.40" font-size="6.3" text-anchor="middle" class="r">50</text>
<text x="475.80" y="561.40" font-size="6.3" text-anchor="end" class="r">100</text>
<text x="400.30" y="569.60" font-size="6.3" text-anchor="end" class="r">sICH</text>
<text x="405.90" y="569.60" font-size="6.3" class="r">Non-sICH</text>
</svg></div>
</body></html>
